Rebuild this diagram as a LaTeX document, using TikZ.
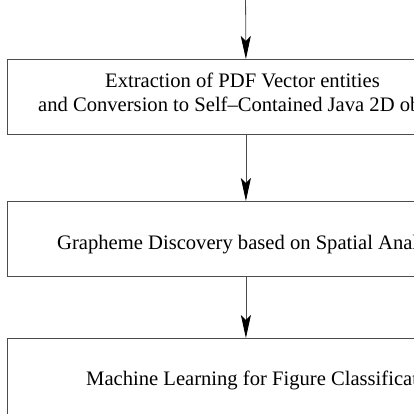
\documentclass[tikz,border=0pt]{standalone}
\usepackage{fontspec}
\setmainfont{Liberation Serif}
\usetikzlibrary{arrows.meta}
\tikzset{
    stage/.style = {draw=black!70, line width=0.8pt, minimum width=477pt, minimum height=75pt, inner sep=0pt, anchor=north west},
    stagetext/.style = {anchor=base west, inner sep=0pt, font=\fontsize{20.6}{24}\selectfont},
    flow/.style = {draw=black!70, line width=0.8pt, -{Stealth[length=23pt, width=10pt, inset=5pt, color=black]}},
}

\begin{document}
\begin{tikzpicture}[x=1pt, y=-1pt]
    \useasboundingbox (0,0) rectangle (414,414);
    \clip (0,0) rectangle (414,414);

    \coordinate (In) at (245.5,-10);

    \node[stage] (Ext) at (7,59) {};
    \node[stagetext] (ExtA) at (105,87.3) {Extraction of PDF Vector entities};
    \node[stagetext] (ExtB) at (38,111.7) {and Conversion to Self--Contained Java 2D objects};

    \node[stage] (Gra) at (7,201) {};
    \node[stagetext] (GraA) at (57,249.3) {Grapheme Discovery based on Spatial Analysis};

    \node[stage, minimum height=90pt] (Mac) at (7,338) {};
    \node[stagetext] (MacA) at (86,385) {Machine Learning for Figure Classification};

    \draw [flow] (In)--(Ext.north);
    \draw [flow] (Ext.south)--(Gra.north);
    \draw [flow] (Gra.south)--(Mac.north);
\end{tikzpicture}
\end{document}
